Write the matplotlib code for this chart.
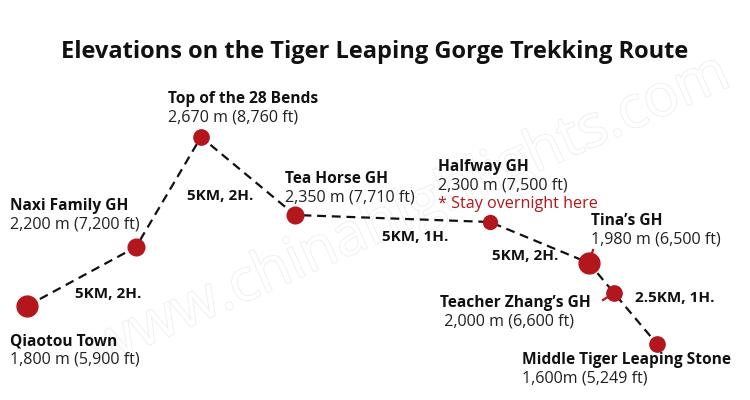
import matplotlib
matplotlib.use("Agg")
import matplotlib.pyplot as plt
import matplotlib.patheffects as pe

# ---- data ----
names = ["Qiaotou Town", "Naxi Family GH", "Top of the 28 Bends", "Tea Horse GH",
         "Halfway GH", "Tina\u2019s GH", "Teacher Zhang\u2019s GH", "Middle Tiger Leaping Stone"]
elev_labels = ["1,800 m (5,900 ft)", "2,200 m (7,200 ft)", "2,670 m (8,760 ft)",
               "2,350 m (7,710 ft)", "2,300 m (7,500 ft)", "1,980 m (6,500 ft)",
               " 2,000 m (6,600 ft)", "1,600m (5,249 ft)"]
# schematic position of each stop on the diagram
route_x = [27, 136, 201, 295, 490, 589, 614, 657]
route_y = [306, 247, 137, 215, 222, 263, 293, 344]
stop_size = [7.5, 6, 5.5, 6, 5, 7.5, 5.5, 5.5]
segment_labels = ["5KM, 2H.", "5KM, 2H.", "5KM, 1H.", "5KM, 2H.", "2.5KM, 1H."]
note = "* Stay overnight here"
title = "Elevations on the Tiger Leaping Gorge Trekking Route"

RED = "#b3161c"
FONT = "Open Sans"

fig = plt.figure(figsize=(7.5, 4.0), dpi=100)
ax = fig.add_axes([0, 0, 1, 1])
ax.set_xlim(0, 750)
ax.set_ylim(400, 0)
ax.axis("off")

# watermark
ax.text(410, 212, "www.chinahighlights.com", fontsize=42, family=FONT,
        color="white", rotation=24, ha="center", va="center", zorder=0,
        path_effects=[pe.withStroke(linewidth=1.2, foreground="#ededed")])

ax.text(375, 52, title, fontsize=17, fontweight="bold", family=FONT,
        ha="center", va="center", color="#111111")

# route line
ax.plot(route_x, route_y, color="#111111", lw=1.6, ls=(0, (4, 2.6)), zorder=2)

# leader ticks
ax.plot([route_x[5], route_x[5] + 4], [route_y[5], route_y[5] - 13], color=RED, lw=1.6, zorder=3)
ax.plot([route_x[6], route_x[6] - 11], [route_y[6], route_y[6] + 7], color=RED, lw=1.6, zorder=3)

for x, y, s in zip(route_x, route_y, stop_size):
    ax.plot(x, y, "o", ms=2 * s, color=RED, mec=RED, zorder=4)

# stop labels: (x, y of name line centre)
name_pos = [(10, 341), (10, 206), (168, 99), (285, 179), (438, 167),
            (591, 221), (440, 303), (522, 360)]
for (tx, ty), n, e in zip(name_pos, names, elev_labels):
    ax.text(tx, ty, n, fontsize=11.2, fontweight="bold", family=FONT,
            ha="left", va="center", color="#111111")
    ax.text(tx, ty + 18.5, e, fontsize=11.6, family=FONT,
            ha="left", va="center", color="#222222")

ax.text(438, 204, note, fontsize=11.6, family=FONT, ha="left", va="center", color=RED)

seg_pos = [(75, 294), (187, 196), (382, 237), (492, 256), (635, 298)]
for (tx, ty), s in zip(seg_pos, segment_labels):
    ax.text(tx, ty, s, fontsize=11, fontweight="bold", family=FONT,
            ha="left", va="center", color="#111111")

fig.savefig("out.png", dpi=100)
